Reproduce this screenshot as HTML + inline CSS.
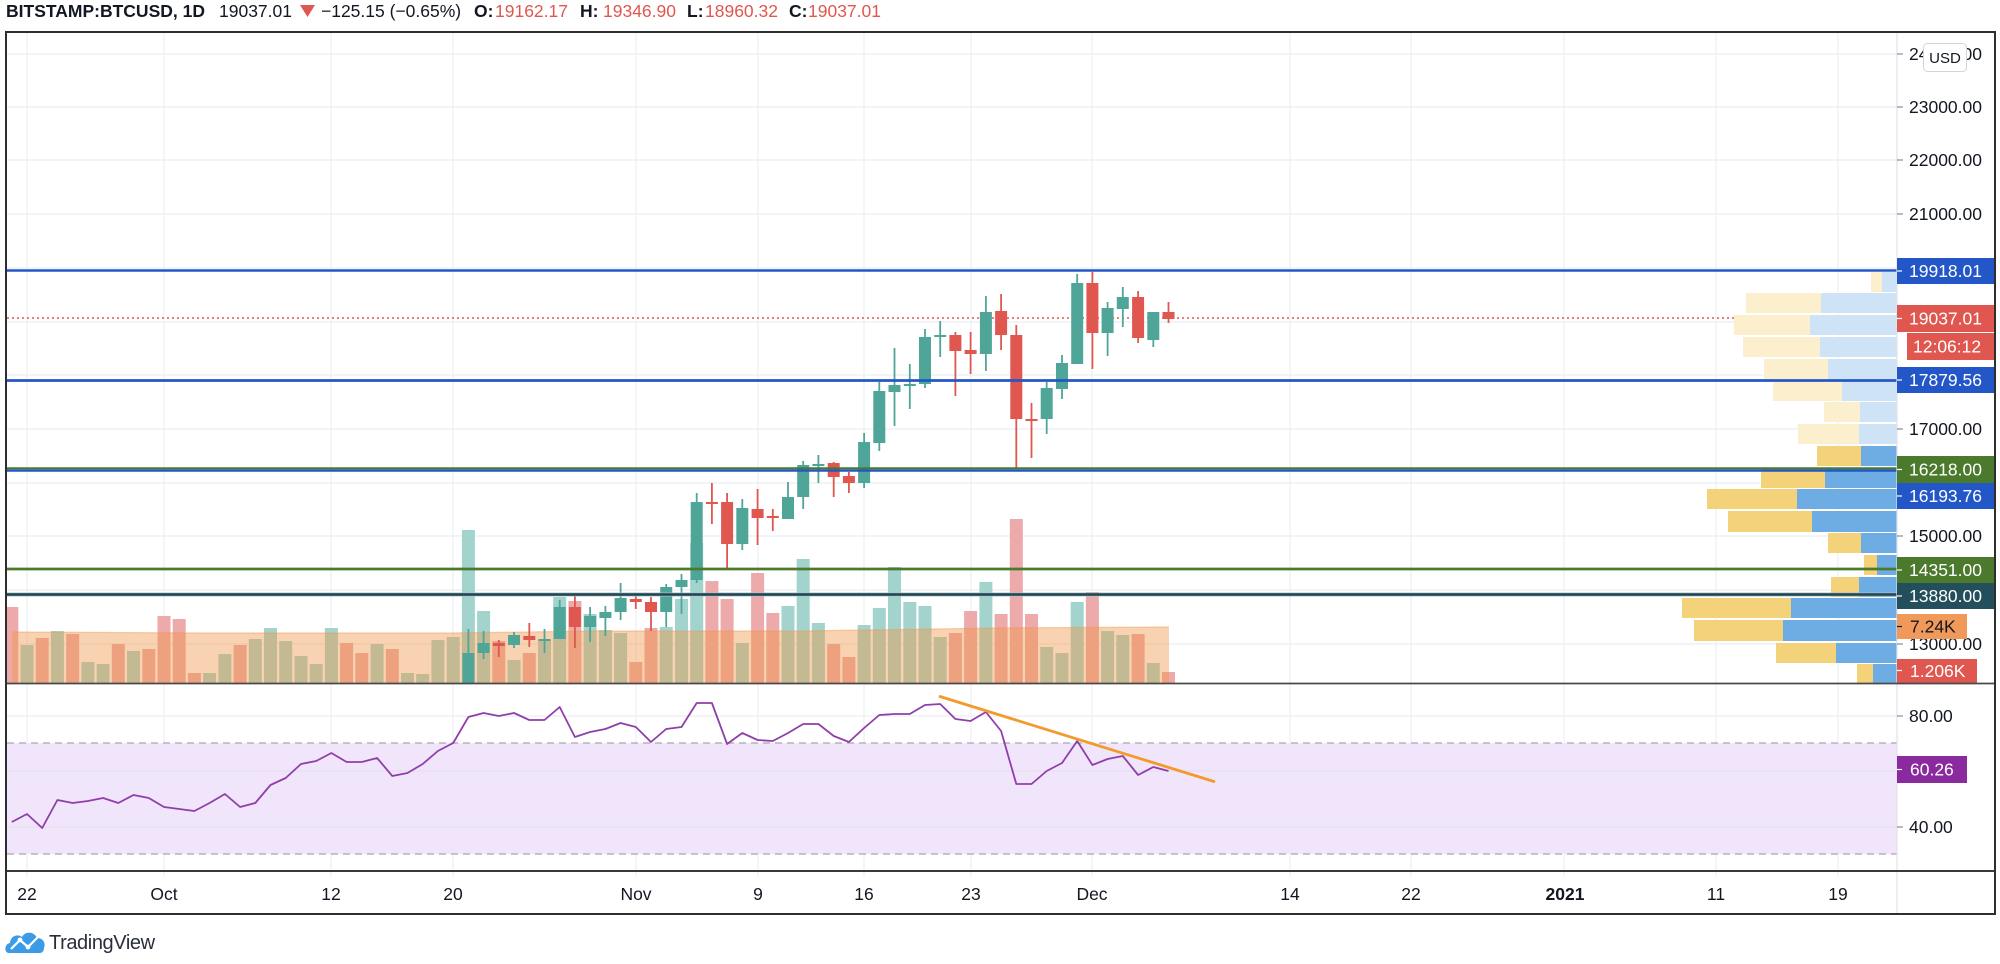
<!DOCTYPE html>
<html>
<head>
<meta charset="utf-8">
<style>
html,body{margin:0;padding:0;background:#fff;}
svg{display:block;}
text{font-family:"Liberation Sans",sans-serif;}
</style>
</head>
<body>
<svg width="2000" height="964" viewBox="0 0 2000 964" xmlns="http://www.w3.org/2000/svg">
<defs>
<clipPath id="mainclip"><rect x="7" y="33" width="1890" height="650"/></clipPath>
<clipPath id="rsiclip"><rect x="7" y="684" width="1890" height="187"/></clipPath>
</defs>
<rect x="0" y="0" width="2000" height="964" fill="#fff"/>

<!-- header -->
<g font-size="17.5" fill="#131722">
<text x="6" y="17" font-weight="bold">BITSTAMP:BTCUSD, 1D</text>
<text x="219" y="17">19037.01</text>
<polygon points="300,5 315,5 307.5,17" fill="#e0574f"/>
<text x="321" y="17">−125.15 (−0.65%)</text>
<text x="474" y="17" font-weight="bold">O:</text><text x="495" y="17" fill="#e0574f">19162.17</text>
<text x="580" y="17" font-weight="bold">H:</text><text x="603" y="17" fill="#e0574f">19346.90</text>
<text x="687" y="17" font-weight="bold">L:</text><text x="705" y="17" fill="#e0574f">18960.32</text>
<text x="789" y="17" font-weight="bold">C:</text><text x="808" y="17" fill="#e0574f">19037.01</text>
</g>

<!-- vertical gridlines -->
<g stroke="#eceef3" stroke-width="1.2">
<line x1="27" y1="33" x2="27" y2="877"/>
<line x1="164" y1="33" x2="164" y2="877"/>
<line x1="331" y1="33" x2="331" y2="877"/>
<line x1="453" y1="33" x2="453" y2="877"/>
<line x1="636" y1="33" x2="636" y2="877"/>
<line x1="758" y1="33" x2="758" y2="877"/>
<line x1="864" y1="33" x2="864" y2="877"/>
<line x1="971" y1="33" x2="971" y2="877"/>
<line x1="1092" y1="33" x2="1092" y2="877"/>
<line x1="1290" y1="33" x2="1290" y2="877"/>
<line x1="1411" y1="33" x2="1411" y2="877"/>
<line x1="1564" y1="33" x2="1564" y2="877"/>
<line x1="1716" y1="33" x2="1716" y2="877"/>
<line x1="1838" y1="33" x2="1838" y2="877"/>
</g>
<!-- horizontal gridlines -->
<g stroke="#eceef3" stroke-width="1.2">
<line x1="7" y1="54" x2="1897" y2="54"/>
<line x1="7" y1="107" x2="1897" y2="107"/>
<line x1="7" y1="160" x2="1897" y2="160"/>
<line x1="7" y1="214" x2="1897" y2="214"/>
<line x1="7" y1="268" x2="1897" y2="268"/>
<line x1="7" y1="322" x2="1897" y2="322"/>
<line x1="7" y1="375" x2="1897" y2="375"/>
<line x1="7" y1="429" x2="1897" y2="429"/>
<line x1="7" y1="483" x2="1897" y2="483"/>
<line x1="7" y1="536" x2="1897" y2="536"/>
<line x1="7" y1="590" x2="1897" y2="590"/>
<line x1="7" y1="644" x2="1897" y2="644"/>
</g>

<!-- volume bars -->
<g clip-path="url(#mainclip)">
<g fill="#a2d4cd">
<rect x="20.5" y="645" width="13" height="38"/>
<rect x="50.9" y="631" width="13" height="52"/>
<rect x="81.4" y="662" width="13" height="21"/>
<rect x="96.6" y="664" width="13" height="19"/>
<rect x="127" y="651" width="13" height="32"/>
<rect x="203.1" y="673" width="13" height="10"/>
<rect x="218.4" y="654" width="13" height="29"/>
<rect x="248.8" y="639" width="13" height="44"/>
<rect x="264" y="628" width="13" height="55"/>
<rect x="279.2" y="641" width="13" height="42"/>
<rect x="294.5" y="656" width="13" height="27"/>
<rect x="309.7" y="664" width="13" height="19"/>
<rect x="324.9" y="628" width="13" height="55"/>
<rect x="370.6" y="644" width="13" height="39"/>
<rect x="401" y="673" width="13" height="10"/>
<rect x="416.2" y="674" width="13" height="9"/>
<rect x="431.4" y="640" width="13" height="43"/>
<rect x="446.7" y="637" width="13" height="46"/>
<rect x="461.9" y="530" width="13" height="153"/>
<rect x="477.1" y="611" width="13" height="72"/>
<rect x="507.5" y="660" width="13" height="23"/>
<rect x="538" y="640" width="13" height="43"/>
<rect x="553.2" y="597" width="13" height="86"/>
<rect x="583.6" y="614" width="13" height="69"/>
<rect x="598.9" y="630" width="13" height="53"/>
<rect x="614.1" y="633" width="13" height="50"/>
<rect x="659.7" y="627" width="13" height="56"/>
<rect x="675" y="599" width="13" height="84"/>
<rect x="690.2" y="543" width="13" height="140"/>
<rect x="735.8" y="643" width="13" height="40"/>
<rect x="781.5" y="606" width="13" height="77"/>
<rect x="796.7" y="559" width="13" height="124"/>
<rect x="811.9" y="623" width="13" height="60"/>
<rect x="857.6" y="625" width="13" height="58"/>
<rect x="872.8" y="608" width="13" height="75"/>
<rect x="888" y="567" width="13" height="116"/>
<rect x="903.3" y="602" width="13" height="81"/>
<rect x="918.5" y="606" width="13" height="77"/>
<rect x="933.7" y="637" width="13" height="46"/>
<rect x="979.4" y="582" width="13" height="101"/>
<rect x="1040.2" y="647" width="13" height="36"/>
<rect x="1055.5" y="653" width="13" height="30"/>
<rect x="1070.7" y="602" width="13" height="81"/>
<rect x="1101.1" y="631" width="13" height="52"/>
<rect x="1116.3" y="635" width="13" height="48"/>
<rect x="1146.8" y="663" width="13" height="20"/>
</g>
<g fill="#ecaaaa">
<rect x="7" y="607" width="11.3" height="76"/>
<rect x="35.7" y="638" width="13" height="45"/>
<rect x="66.2" y="634" width="13" height="49"/>
<rect x="111.8" y="644" width="13" height="39"/>
<rect x="142.3" y="649" width="13" height="34"/>
<rect x="157.5" y="616" width="13" height="67"/>
<rect x="172.7" y="619" width="13" height="64"/>
<rect x="187.9" y="673" width="13" height="10"/>
<rect x="233.6" y="645" width="13" height="38"/>
<rect x="340.1" y="643" width="13" height="40"/>
<rect x="355.3" y="653" width="13" height="30"/>
<rect x="385.8" y="649" width="13" height="34"/>
<rect x="492.3" y="641" width="13" height="42"/>
<rect x="522.8" y="653" width="13" height="30"/>
<rect x="568.4" y="601" width="13" height="82"/>
<rect x="629.3" y="662" width="13" height="21"/>
<rect x="644.5" y="628" width="13" height="55"/>
<rect x="705.4" y="581" width="13" height="102"/>
<rect x="720.6" y="599" width="13" height="84"/>
<rect x="751.1" y="573" width="13" height="110"/>
<rect x="766.3" y="613" width="13" height="70"/>
<rect x="827.2" y="644" width="13" height="39"/>
<rect x="842.4" y="657" width="13" height="26"/>
<rect x="948.9" y="633" width="13" height="50"/>
<rect x="964.1" y="611" width="13" height="72"/>
<rect x="994.6" y="614" width="13" height="69"/>
<rect x="1009.8" y="519" width="13" height="164"/>
<rect x="1025" y="614" width="13" height="69"/>
<rect x="1085.9" y="592" width="13" height="91"/>
<rect x="1131.6" y="634" width="13" height="49"/>
<rect x="1162" y="672" width="13" height="11"/>
</g>
<!-- volume MA area -->
<polygon points="12,632 200,633 450,633 600,631 800,631 1000,628 1169,627 1169,683 12,683" fill="rgb(240,150,70)" fill-opacity="0.42"/>
<polyline points="12,632 200,633 450,633 600,631 800,631 1000,628 1169,627" fill="none" stroke="rgb(240,150,80)" stroke-opacity="0.45" stroke-width="1.2"/>

<!-- current price dotted line -->
<line x1="7" y1="318" x2="1897" y2="318" stroke="#e0574f" stroke-width="1.5" stroke-dasharray="2 3"/>

<!-- candles -->
<g stroke="#4fa698" stroke-width="1.8">
<line x1="468.4" y1="629" x2="468.4" y2="683"/>
<line x1="483.6" y1="631" x2="483.6" y2="659"/>
<line x1="514" y1="632" x2="514" y2="648"/>
<line x1="544.5" y1="629" x2="544.5" y2="653"/>
<line x1="559.7" y1="600" x2="559.7" y2="639"/>
<line x1="590.1" y1="607" x2="590.1" y2="642"/>
<line x1="605.4" y1="606" x2="605.4" y2="636"/>
<line x1="620.6" y1="583" x2="620.6" y2="620"/>
<line x1="666.2" y1="584" x2="666.2" y2="627"/>
<line x1="681.5" y1="574" x2="681.5" y2="614"/>
<line x1="696.7" y1="493" x2="696.7" y2="583"/>
<line x1="742.3" y1="499" x2="742.3" y2="550"/>
<line x1="788" y1="482" x2="788" y2="519"/>
<line x1="803.2" y1="461" x2="803.2" y2="509"/>
<line x1="818.4" y1="455" x2="818.4" y2="483"/>
<line x1="864.1" y1="433" x2="864.1" y2="488"/>
<line x1="879.3" y1="382" x2="879.3" y2="451"/>
<line x1="894.5" y1="348" x2="894.5" y2="426"/>
<line x1="909.8" y1="364" x2="909.8" y2="409"/>
<line x1="925" y1="329" x2="925" y2="388"/>
<line x1="940.2" y1="321" x2="940.2" y2="357"/>
<line x1="985.9" y1="296" x2="985.9" y2="371"/>
<line x1="1046.7" y1="382" x2="1046.7" y2="434"/>
<line x1="1062" y1="355" x2="1062" y2="399"/>
<line x1="1077.2" y1="274" x2="1077.2" y2="364"/>
<line x1="1107.6" y1="302" x2="1107.6" y2="356"/>
<line x1="1122.8" y1="287" x2="1122.8" y2="327"/>
<line x1="1153.3" y1="312" x2="1153.3" y2="347"/>
</g>
<g fill="#4fa698">
<rect x="462.4" y="653" width="12" height="30"/>
<rect x="477.6" y="643" width="12" height="10"/>
<rect x="508" y="635" width="12" height="10"/>
<rect x="538.5" y="639" width="12" height="2"/>
<rect x="553.7" y="607" width="12" height="32"/>
<rect x="584.1" y="616" width="12" height="11"/>
<rect x="599.4" y="612" width="12" height="6"/>
<rect x="614.6" y="598" width="12" height="14"/>
<rect x="660.2" y="587" width="12" height="25"/>
<rect x="675.5" y="580" width="12" height="7"/>
<rect x="690.7" y="502" width="12" height="78"/>
<rect x="736.3" y="508" width="12" height="36"/>
<rect x="782" y="497" width="12" height="22"/>
<rect x="797.2" y="465" width="12" height="32"/>
<rect x="812.4" y="464" width="12" height="2"/>
<rect x="858.1" y="442" width="12" height="41"/>
<rect x="873.3" y="391" width="12" height="52"/>
<rect x="888.5" y="385" width="12" height="7"/>
<rect x="903.8" y="384" width="12" height="2"/>
<rect x="919" y="337" width="12" height="47"/>
<rect x="934.2" y="335" width="12" height="2"/>
<rect x="979.9" y="312" width="12" height="42"/>
<rect x="1040.7" y="388" width="12" height="31"/>
<rect x="1056" y="363" width="12" height="26"/>
<rect x="1071.2" y="283" width="12" height="81"/>
<rect x="1101.6" y="308" width="12" height="25"/>
<rect x="1116.8" y="297" width="12" height="12"/>
<rect x="1147.3" y="312" width="12" height="28"/>
</g>
<g stroke="#e0574f" stroke-width="1.8">
<line x1="498.8" y1="640" x2="498.8" y2="657"/>
<line x1="529.3" y1="623" x2="529.3" y2="647"/>
<line x1="574.9" y1="596" x2="574.9" y2="648"/>
<line x1="635.8" y1="595" x2="635.8" y2="609"/>
<line x1="651" y1="597" x2="651" y2="631"/>
<line x1="711.9" y1="483" x2="711.9" y2="524"/>
<line x1="727.1" y1="493" x2="727.1" y2="568"/>
<line x1="757.6" y1="489" x2="757.6" y2="545"/>
<line x1="772.8" y1="509" x2="772.8" y2="531"/>
<line x1="833.7" y1="462" x2="833.7" y2="497"/>
<line x1="848.9" y1="472" x2="848.9" y2="493"/>
<line x1="955.4" y1="332" x2="955.4" y2="396"/>
<line x1="970.6" y1="332" x2="970.6" y2="374"/>
<line x1="1001.1" y1="294" x2="1001.1" y2="350"/>
<line x1="1016.3" y1="325" x2="1016.3" y2="468"/>
<line x1="1031.5" y1="403" x2="1031.5" y2="458"/>
<line x1="1092.4" y1="272" x2="1092.4" y2="369"/>
<line x1="1138.1" y1="291" x2="1138.1" y2="343"/>
<line x1="1168.5" y1="302" x2="1168.5" y2="323"/>
</g>
<g fill="#e0574f">
<rect x="492.8" y="643" width="12" height="3"/>
<rect x="523.3" y="636" width="12" height="4"/>
<rect x="568.9" y="607" width="12" height="20"/>
<rect x="629.8" y="599" width="12" height="3"/>
<rect x="645" y="602" width="12" height="10"/>
<rect x="705.9" y="502" width="12" height="2"/>
<rect x="721.1" y="502" width="12" height="42"/>
<rect x="751.6" y="509" width="12" height="9"/>
<rect x="766.8" y="516" width="12" height="2"/>
<rect x="827.7" y="463" width="12" height="14"/>
<rect x="842.9" y="476" width="12" height="7"/>
<rect x="949.4" y="335" width="12" height="16"/>
<rect x="964.6" y="350" width="12" height="4"/>
<rect x="995.1" y="311" width="12" height="24"/>
<rect x="1010.3" y="335" width="12" height="84"/>
<rect x="1025.5" y="419" width="12" height="2"/>
<rect x="1086.4" y="283" width="12" height="50"/>
<rect x="1132.1" y="297" width="12" height="41"/>
<rect x="1162.5" y="312" width="12" height="7"/>
</g>

<!-- volume profile -->
<g fill="#fcefce">
<rect x="1871" y="272" width="11" height="20"/>
<rect x="1746" y="293" width="75" height="20"/>
<rect x="1734" y="315" width="76" height="20"/>
<rect x="1743" y="337" width="77" height="20"/>
<rect x="1764" y="359" width="64" height="20"/>
<rect x="1773" y="381" width="69" height="20"/>
<rect x="1824" y="402" width="36" height="20"/>
<rect x="1798" y="424" width="61" height="20"/>
</g>
<g fill="#cee3f5">
<rect x="1882" y="272" width="15" height="20"/>
<rect x="1821" y="293" width="76" height="20"/>
<rect x="1810" y="315" width="87" height="20"/>
<rect x="1820" y="337" width="77" height="20"/>
<rect x="1828" y="359" width="69" height="20"/>
<rect x="1842" y="381" width="55" height="20"/>
<rect x="1860" y="402" width="37" height="20"/>
<rect x="1859" y="424" width="38" height="20"/>
</g>
<g fill="#f4d27a">
<rect x="1817" y="446" width="44" height="20"/>
<rect x="1761" y="468" width="64" height="20"/>
<rect x="1707" y="489" width="90" height="20"/>
<rect x="1728" y="511" width="84" height="21"/>
<rect x="1828" y="533" width="33" height="20"/>
<rect x="1864" y="555" width="13" height="20"/>
<rect x="1831" y="577" width="28" height="20"/>
<rect x="1682" y="598" width="109" height="20"/>
<rect x="1694" y="620" width="89" height="21"/>
<rect x="1776" y="643" width="60" height="20"/>
<rect x="1857" y="664" width="16" height="19"/>
</g>
<g fill="#6dade4">
<rect x="1861" y="446" width="36" height="20"/>
<rect x="1825" y="468" width="72" height="20"/>
<rect x="1797" y="489" width="100" height="20"/>
<rect x="1812" y="511" width="85" height="21"/>
<rect x="1861" y="533" width="36" height="20"/>
<rect x="1877" y="555" width="20" height="20"/>
<rect x="1859" y="577" width="38" height="20"/>
<rect x="1791" y="598" width="106" height="20"/>
<rect x="1783" y="620" width="114" height="21"/>
<rect x="1836" y="643" width="61" height="20"/>
<rect x="1873" y="664" width="24" height="19"/>
</g>

<!-- horizontal level lines -->
<line x1="7" y1="270.5" x2="1897" y2="270.5" stroke="#2356c6" stroke-width="2.6"/>
<line x1="7" y1="380.5" x2="1897" y2="380.5" stroke="#2356c6" stroke-width="2.8"/>
<line x1="7" y1="470.5" x2="1897" y2="470.5" stroke="#2356c6" stroke-width="2.6"/>
<line x1="7" y1="468.3" x2="1897" y2="468.3" stroke="#4b7a2c" stroke-width="2"/>
<line x1="7" y1="569" x2="1897" y2="569" stroke="#4b7a2c" stroke-width="2.8"/>
<line x1="7" y1="594.5" x2="1897" y2="594.5" stroke="#a9bfc6" stroke-width="4"/>
<line x1="7" y1="594.5" x2="1897" y2="594.5" stroke="#1e4450" stroke-width="2.4"/>
</g>

<!-- RSI pane -->
<g clip-path="url(#rsiclip)">
<rect x="7" y="743" width="1890" height="111" fill="#f1e5fb"/>
<line x1="7" y1="716" x2="1897" y2="716" stroke="#eceef3" stroke-width="1.2"/>
<line x1="7" y1="771" x2="1897" y2="771" stroke="#e6e0ee" stroke-width="1.2"/>
<line x1="7" y1="827" x2="1897" y2="827" stroke="#e6e0ee" stroke-width="1.2"/>
<line x1="7" y1="743" x2="1897" y2="743" stroke="#b5b3ba" stroke-width="1.5" stroke-dasharray="7 5"/>
<line x1="7" y1="854" x2="1897" y2="854" stroke="#b5b3ba" stroke-width="1.5" stroke-dasharray="7 5"/>
<polyline fill="none" stroke="#8f3fa8" stroke-width="1.8" stroke-linejoin="round" points="11.8,822 27,814 42.2,828 57.4,800 72.7,803 87.9,801 103.1,798 118.3,803 133.5,795 148.8,798 164,807 179.2,809 194.4,811 209.6,803 224.9,794 240.1,807 255.3,803 270.5,785 285.7,778 301,764 316.2,761 331.4,753 346.6,762 361.8,762 377.1,758 392.3,776 407.5,773 422.7,764 437.9,751 453.2,743 468.4,717 483.6,713 498.8,716 514,713 529.3,720 544.5,720 559.7,707 574.9,737 590.1,732 605.4,729 620.6,723 635.8,727 651,742 666.2,729 681.5,727 696.7,703 711.9,703 727.1,744 742.3,733 757.6,740 772.8,741 788,733 803.2,724 818.4,724 833.7,736 848.9,742 864.1,728 879.3,715 894.5,714 909.8,714 925,705 940.2,704 955.4,719 970.6,721 985.9,712 1001.1,731 1016.3,784 1031.5,784 1046.7,771 1062,763 1077.2,741 1092.4,765 1107.6,759 1122.8,756 1138.1,775 1153.3,767 1168.5,771"/>
<line x1="940" y1="696.5" x2="1214" y2="781.5" stroke="#f39a2b" stroke-width="2.8" stroke-linecap="round"/>
</g>

<!-- axis separator -->
<line x1="1897" y1="33" x2="1897" y2="914" stroke="#e0e3eb" stroke-width="1.2"/>

<!-- price axis ticks -->
<g stroke="#8a8d96" stroke-width="1.2">
<line x1="1897" y1="54" x2="1903" y2="54"/>
<line x1="1897" y1="107" x2="1903" y2="107"/>
<line x1="1897" y1="160" x2="1903" y2="160"/>
<line x1="1897" y1="214" x2="1903" y2="214"/>
<line x1="1897" y1="429" x2="1903" y2="429"/>
<line x1="1897" y1="536" x2="1903" y2="536"/>
<line x1="1897" y1="644" x2="1903" y2="644"/>
<line x1="1897" y1="716" x2="1903" y2="716"/>
<line x1="1897" y1="827" x2="1903" y2="827"/>
</g>
<g font-size="17.5" fill="#131722">
<text x="1909" y="60">24000.00</text>
<text x="1909" y="113">23000.00</text>
<text x="1909" y="166">22000.00</text>
<text x="1909" y="220">21000.00</text>
<text x="1909" y="435">17000.00</text>
<text x="1909" y="542">15000.00</text>
<text x="1909" y="650">13000.00</text>
<text x="1909" y="722">80.00</text>
<text x="1909" y="833">40.00</text>
</g>

<!-- USD box -->
<rect x="1923.5" y="43.5" width="43" height="28" rx="4" fill="#fff" stroke="#d1d4dc" stroke-width="1"/>
<text x="1945" y="63" font-size="15" fill="#131722" text-anchor="middle">USD</text>

<!-- price labels -->
<g font-size="17.5" fill="#fff">
<rect x="1897" y="258" width="98" height="26" fill="#2356c6"/>
<text x="1909" y="277">19918.01</text>
<rect x="1897" y="305" width="98" height="27" fill="#e0574f"/>
<text x="1909" y="324.5">19037.01</text>
<rect x="1907" y="333" width="88" height="27" fill="#e0574f"/>
<text x="1913" y="352.5">12:06:12</text>
<rect x="1897" y="367" width="98" height="26" fill="#2356c6"/>
<text x="1909" y="386">17879.56</text>
<rect x="1897" y="456" width="98" height="27" fill="#4b7a2c"/>
<text x="1909" y="475.5">16218.00</text>
<rect x="1897" y="483" width="98" height="26" fill="#2356c6"/>
<text x="1909" y="502">16193.76</text>
<rect x="1897" y="557" width="98" height="26" fill="#4b7a2c"/>
<text x="1909" y="576">14351.00</text>
<rect x="1897" y="583" width="98" height="26" fill="#234e5b"/>
<text x="1909" y="602">13880.00</text>
<rect x="1897" y="614" width="70" height="25" fill="#f0995a"/>
<text x="1910" y="632.5" fill="#131722">7.24K</text>
<rect x="1897" y="659" width="80" height="24" fill="#e0574f"/>
<text x="1910" y="677">1.206K</text>
<rect x="1897" y="756" width="70" height="27" fill="#8a2a9e"/>
<text x="1910" y="775.5">60.26</text>
</g>
<g stroke="#fff" stroke-width="1.2">
<line x1="1897" y1="271" x2="1902" y2="271"/>
<line x1="1897" y1="318.5" x2="1902" y2="318.5"/>
<line x1="1897" y1="380" x2="1902" y2="380"/>
<line x1="1897" y1="469.5" x2="1902" y2="469.5"/>
<line x1="1897" y1="496" x2="1902" y2="496"/>
<line x1="1897" y1="570" x2="1902" y2="570"/>
<line x1="1897" y1="596" x2="1902" y2="596"/>
<line x1="1897" y1="670.5" x2="1902" y2="670.5"/>
<line x1="1897" y1="769.5" x2="1902" y2="769.5"/>
</g>
<line x1="1897" y1="626.5" x2="1902" y2="626.5" stroke="#131722" stroke-width="1.2"/>

<!-- pane separators and border -->
<line x1="6" y1="683.5" x2="1995" y2="683.5" stroke="#4a4a4a" stroke-width="1.8"/>
<line x1="6" y1="871" x2="1995" y2="871" stroke="#3a3a3a" stroke-width="2"/>
<rect x="6" y="32" width="1989" height="882" fill="none" stroke="#2e2e2e" stroke-width="2"/>

<!-- time axis labels -->
<g font-size="17.5" fill="#131722" text-anchor="middle">
<text x="27" y="900">22</text>
<text x="164" y="900">Oct</text>
<text x="331" y="900">12</text>
<text x="453" y="900">20</text>
<text x="636" y="900">Nov</text>
<text x="758" y="900">9</text>
<text x="864" y="900">16</text>
<text x="971" y="900">23</text>
<text x="1092" y="900">Dec</text>
<text x="1290" y="900">14</text>
<text x="1411" y="900">22</text>
<text x="1565" y="900" font-weight="bold">2021</text>
<text x="1716" y="900">11</text>
<text x="1838" y="900">19</text>
</g>

<!-- TradingView logo -->
<g>
<path d="M9,953 C4,953 4,944 10,943 C10,937 17,933 22,937 C25,931 34,931 37,938 C43,938 46,943 44,948 C44,951 42,953 40,953 Z" fill="#3c9be6"/>
<polyline points="11,949 20,940 28,947 38,937" fill="none" stroke="#fff" stroke-width="2.2" stroke-linejoin="round"/>
<circle cx="20" cy="940" r="2.4" fill="#fff"/>
<circle cx="28" cy="947" r="2.4" fill="#fff"/>
<text x="49" y="949" font-size="20" letter-spacing="-0.4" fill="#2a2e39">TradingView</text>
</g>
</svg>
</body>
</html>
